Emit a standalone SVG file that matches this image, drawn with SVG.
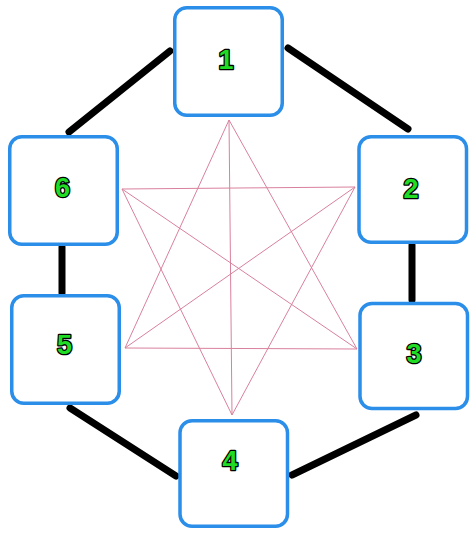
<svg xmlns="http://www.w3.org/2000/svg" width="474" height="535" viewBox="0 0 474 535">
<style>
.box{fill:#ffffff;stroke:#2b8ee9;stroke-width:3.5}
.lbl{font-family:"Liberation Sans",Arial,sans-serif;font-weight:bold;font-size:27px;fill:#1fdc25;stroke:#000000;stroke-width:2.6;stroke-linejoin:round;paint-order:stroke;text-anchor:middle}
.edge{stroke:#000000;stroke-width:7;stroke-linecap:round;fill:none}
.star{stroke:#d9809c;stroke-width:1;fill:none}
</style>
<rect width="474" height="535" fill="#ffffff"/>
<g id="star">
<line class="star" x1="229" y1="120" x2="125" y2="348"/>
<line class="star" x1="229" y1="120" x2="357" y2="349"/>
<line class="star" x1="229" y1="120" x2="232" y2="415"/>
<line class="star" x1="125" y1="348" x2="357" y2="349"/>
<line class="star" x1="122" y1="189" x2="355" y2="187"/>
<line class="star" x1="122" y1="189" x2="232" y2="415"/>
<line class="star" x1="122" y1="189" x2="357" y2="349"/>
<line class="star" x1="355" y1="187" x2="232" y2="415"/>
<line class="star" x1="355" y1="187" x2="125" y2="348"/>
</g>
<g id="connectors">
<line class="edge" x1="69" y1="132" x2="170" y2="51"/>
<line class="edge" x1="288" y1="48" x2="408" y2="129"/>
<line class="edge" x1="412" y1="245" x2="412" y2="300"/>
<line class="edge" x1="292" y1="475" x2="416" y2="415"/>
<line class="edge" x1="70" y1="408" x2="176" y2="476"/>
<line class="edge" x1="62" y1="247" x2="62" y2="293"/>
</g>
<g id="node1"><rect class="box" x="174.75" y="7.75" width="107.5" height="107.5" rx="12"/><text class="lbl" x="226" y="68.5">1</text></g>
<g id="node2"><rect class="box" x="359" y="136.75" width="107.5" height="105.5" rx="12"/><text class="lbl" x="411" y="197.5">2</text></g>
<g id="node3"><rect class="box" x="360" y="303.5" width="107.5" height="105" rx="12"/><text class="lbl" x="414" y="362.5">3</text></g>
<g id="node4"><rect class="box" x="180" y="420.75" width="107.5" height="105.5" rx="12"/><text class="lbl" x="230" y="469.5">4</text></g>
<g id="node5"><rect class="box" x="11.75" y="295.75" width="107.5" height="107.5" rx="12"/><text class="lbl" x="64.5" y="353.5">5</text></g>
<g id="node6"><rect class="box" x="9.75" y="136.75" width="107.5" height="107.5" rx="12"/><text class="lbl" x="62.5" y="196.5">6</text></g>
</svg>
